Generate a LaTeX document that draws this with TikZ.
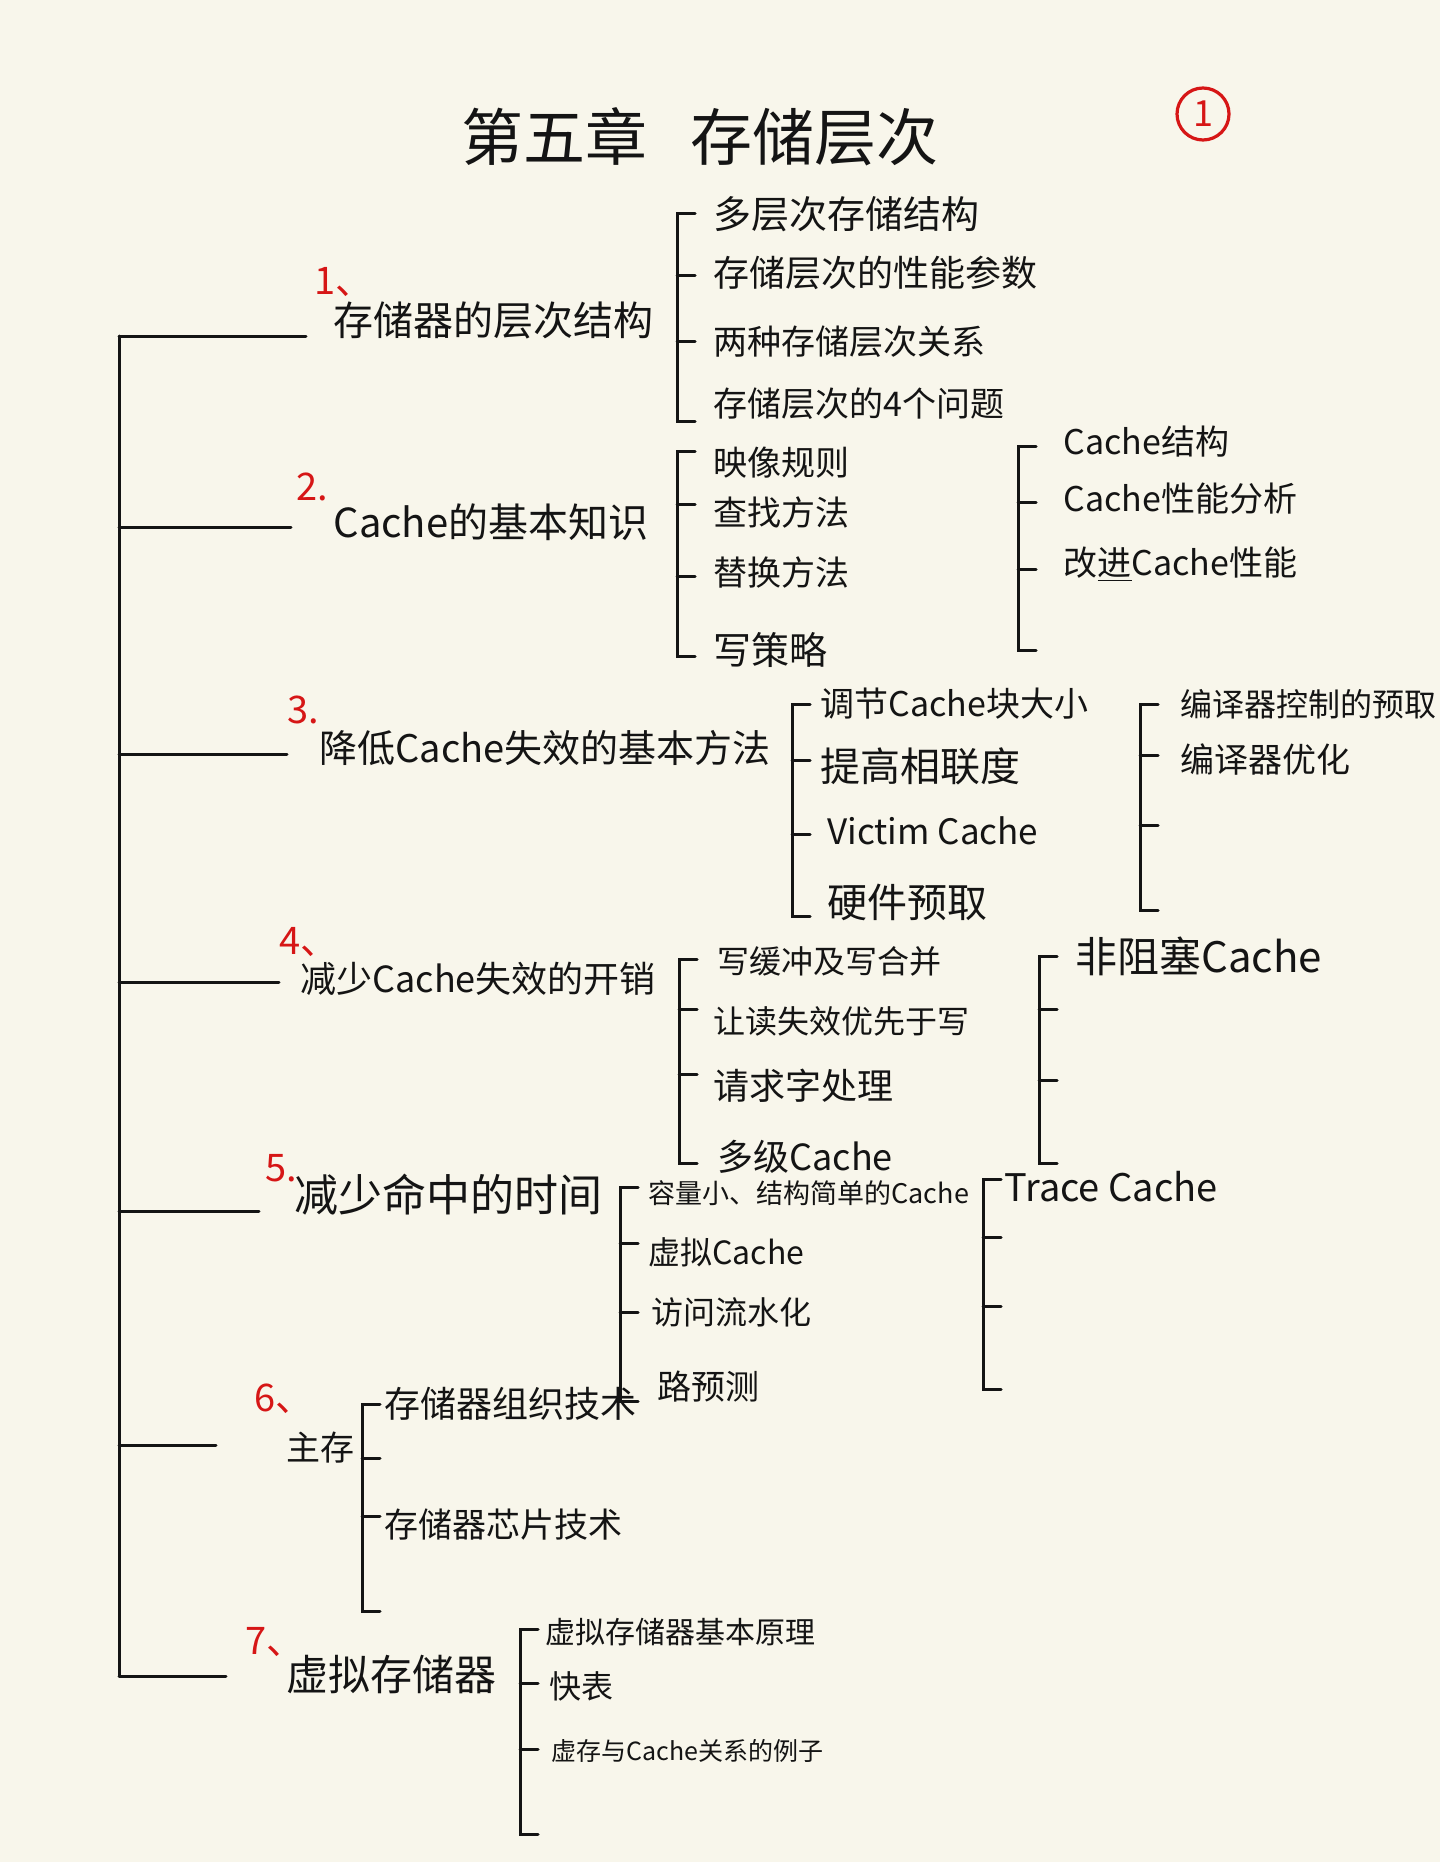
\documentclass[tikz,border=0pt]{standalone}
\usepackage{fontspec}
\setmainfont{Noto Sans CJK SC}
\definecolor{paper}{RGB}{248,246,235}
\definecolor{pen}{RGB}{20,20,20}
\definecolor{mark}{RGB}{214,22,22}

\begin{document}
\begin{tikzpicture}[x=0.5pt, y=-0.5pt, line width=1.5pt, line cap=round, draw=pen,
	txt/.style={anchor=west, inner sep=0pt, text=pen},
	sz/.style={font=\fontsize{#1}{#1}\selectfont},
	num/.style={anchor=west, inner sep=0pt, text=mark, font=\fontsize{19}{19}\selectfont}]
	\fill[paper] (0,0) rectangle (1440,1862);
	\useasboundingbox (0,0) rectangle (1440,1862);
	% title
	\node[txt, anchor=center, sz=31] (title) at (700,137) {第五章\hspace{0.7em}存储层次};
	\node[circle, draw=mark, text=mark, line width=1.6pt, minimum size=26pt, inner sep=0pt, sz=18] (page) at (1203,114) {1};
	% trunk and branches
	\coordinate (top) at (119,336);
	\coordinate (bot) at (119,1676);
	\draw (top) -- (bot);
	\foreach \n/\y/\x in {1/336/306, 2/527/291, 3/754/287, 4/982/279, 5/1211/259, 6/1445/216, 7/1676/226} {
		\coordinate (b\n) at (\x,\y);
		\draw (b\n -| top) -- (b\n);
	}
	% brackets
	\foreach \x/\ya/\yb/\yc/\yd in {677/214/275/341/421, 677/451/504/576/656, 1018/446/502/569/650,
		792/704/760/834/916, 1140/704/755/825/910, 679/959/1009/1074/1163, 1039/956/1009/1080/1163,
		620/1187/1243/1312/1401, 983/1179/1237/1306/1389, 362/1404/1458/1516/1611, 520/1629/1683/1749/1834} {
		\draw (\x+18,\ya) -- (\x,\ya) -- (\x,\yd) -- (\x+18,\yd);
		\draw (\x,\yb) -- +(18,0);
		\draw (\x,\yc) -- +(18,0);
	}
	% 1
	\node[num] (n1) at (313,282) {1、};
	\node[txt, sz=20] (h1) at (332,320) {存储器的层次结构};
	\node[txt, sz=19] (i11) at (712,214) {多层次存储结构};
	\node[txt, sz=18] (i12) at (712,273) {存储层次的性能参数};
	\node[txt, sz=17] (i13) at (712,342) {两种存储层次关系};
	\node[txt, sz=17] (i14) at (712,404) {存储层次的4个问题};
	% 2
	\node[num] (n2) at (295,487) {2.};
	\node[txt, sz=20] (h2) at (332,522) {Cache的基本知识};
	\node[txt, sz=17] (i21) at (712,463) {映像规则};
	\node[txt, sz=17] (i22) at (712,513) {查找方法};
	\node[txt, sz=17] (i23) at (712,573) {替换方法};
	\node[txt, sz=19] (i24) at (712,650) {写策略};
	\node[txt, sz=17] (i25) at (1062,442) {Cache结构};
	\node[txt, sz=17] (i26) at (1062,499) {Cache性能分析};
	\node[txt, sz=17] (i27) at (1062,564) {改\underline{进}Cache性能};
	% 3
	\node[num] (n3) at (286,710) {3.};
	\node[txt, sz=19] (h3) at (318,748) {降低Cache失效的基本方法};
	\node[txt, sz=17] (i31) at (819,704) {调节Cache块大小};
	\node[txt, sz=20] (i32) at (819,766) {提高相联度};
	\node[txt, sz=17.5] (i33) at (826,831) {Victim Cache};
	\node[txt, sz=20] (i34) at (826,902) {硬件预取};
	\node[txt, sz=16] (i35) at (1179,704) {编译器控制的预取};
	\node[txt, sz=17] (i36) at (1179,760) {编译器优化};
	% 4
	\node[num] (n4) at (278,942) {4、};
	\node[txt, sz=18] (h4) at (299,979) {减少Cache失效的开销};
	\node[txt, sz=16] (i41) at (716,961) {写缓冲及写合并};
	\node[txt, sz=16] (i42) at (712,1021) {让读失效优先于写};
	\node[txt, sz=18] (i43) at (712,1086) {请求字处理};
	\node[txt, sz=18] (i44) at (716,1157) {多级Cache};
	\node[txt, sz=21] (i45) at (1074,956) {非阻塞Cache};
	% 5
	\node[num] (n5) at (264,1168) {5.};
	\node[txt, sz=22] (h5) at (293,1195) {减少命中的时间};
	\node[txt, sz=13.5] (i51) at (647,1193) {容量小、结构简单的Cache};
	\node[txt, sz=16] (i52) at (647,1252) {虚拟Cache};
	\node[txt, sz=16] (i53) at (650,1312) {访问流水化};
	\node[txt, sz=17] (i54) at (656,1387) {路预测};
	\node[txt, sz=19] (i55) at (1003,1187) {Trace Cache};
	% 6
	\node[num] (n6) at (253,1399) {6、};
	\node[txt, sz=17] (h6) at (285,1448) {主存};
	\node[txt, sz=18] (i61) at (383,1404) {存储器组织技术};
	\node[txt, sz=17] (i62) at (383,1525) {存储器芯片技术};
	% 7
	\node[num] (n7) at (244,1642) {7、};
	\node[txt, sz=21] (h7) at (285,1674) {虚拟存储器};
	\node[txt, sz=15] (i71) at (544,1632) {虚拟存储器基本原理};
	\node[txt, sz=16] (i72) at (548,1686) {快表};
	\node[txt, sz=12.5] (i73) at (550,1751) {虚存与Cache关系的例子};
\end{tikzpicture}
\end{document}
